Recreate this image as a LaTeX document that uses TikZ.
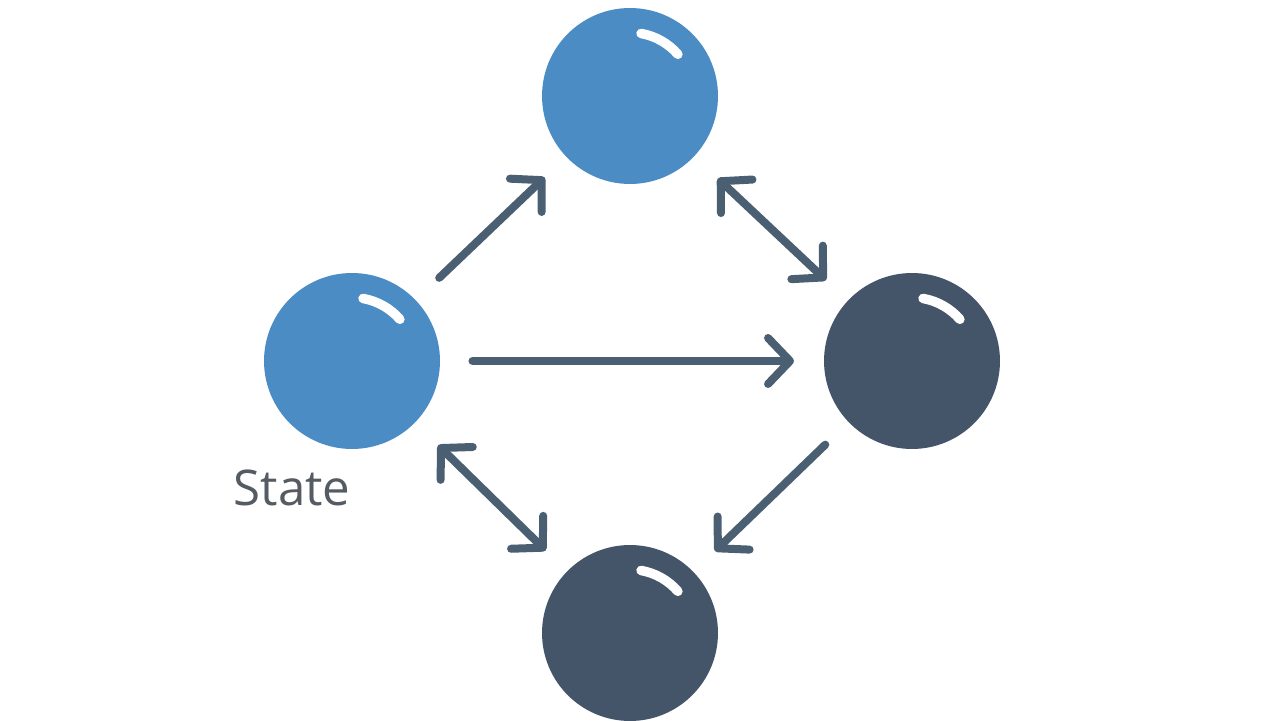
\documentclass[tikz,border=0pt]{standalone}
\usepackage{fontspec}
\setsansfont{Open Sans}
\usetikzlibrary{arrows.meta}

\definecolor{stateblue}{HTML}{4A8CC3}
\definecolor{statedark}{HTML}{44556A}
\definecolor{linkgray}{HTML}{4B5F73}
\definecolor{labelgray}{HTML}{555B63}

\tikzset{
  ball/.style={circle, minimum size=3.52cm, inner sep=0pt, outer sep=0pt},
  link/.style={linkgray, line width=0.16cm, line cap=round,
    shorten <=0.65cm, shorten >=0.6cm},
  barb/.tip={Straight Barb[length=0.44cm, width=0.92cm, line cap=round, line join=round]}
}

\begin{document}
\begin{tikzpicture}[x=0.02cm, y=0.02cm]
            \useasboundingbox (0,0) rectangle (1280,720);
            \clip (0,0) rectangle (1280,720);

            % the four states
            \node[ball, fill=stateblue] (top) at (630,624) {};
            \node[ball, fill=stateblue] (lft) at (352,359) {};
            \node[ball, fill=statedark] (rgt) at (912,359) {};
            \node[ball, fill=statedark] (bot) at (630,87) {};

            % highlights
            \foreach \n in {top,lft,rgt,bot}
              \draw[white, line width=0.19cm, line cap=round]
                ([shift={(80:1.27cm)}]\n.center) arc[start angle=80, end angle=41, radius=1.27cm];

            % label
            \node[labelgray, font=\sffamily\fontsize{28}{30}\selectfont] (statelabel) at (292,232) {State};

            % transitions
            \draw[link, -barb] (lft) -- (top);
            \draw[link, barb-barb] (top) -- (rgt);
            \draw[link, -barb] (lft) -- (rgt);
            \draw[link, -barb] (rgt) -- (bot);
            \draw[link, barb-barb] (lft) -- (bot);
\end{tikzpicture}
\end{document}
